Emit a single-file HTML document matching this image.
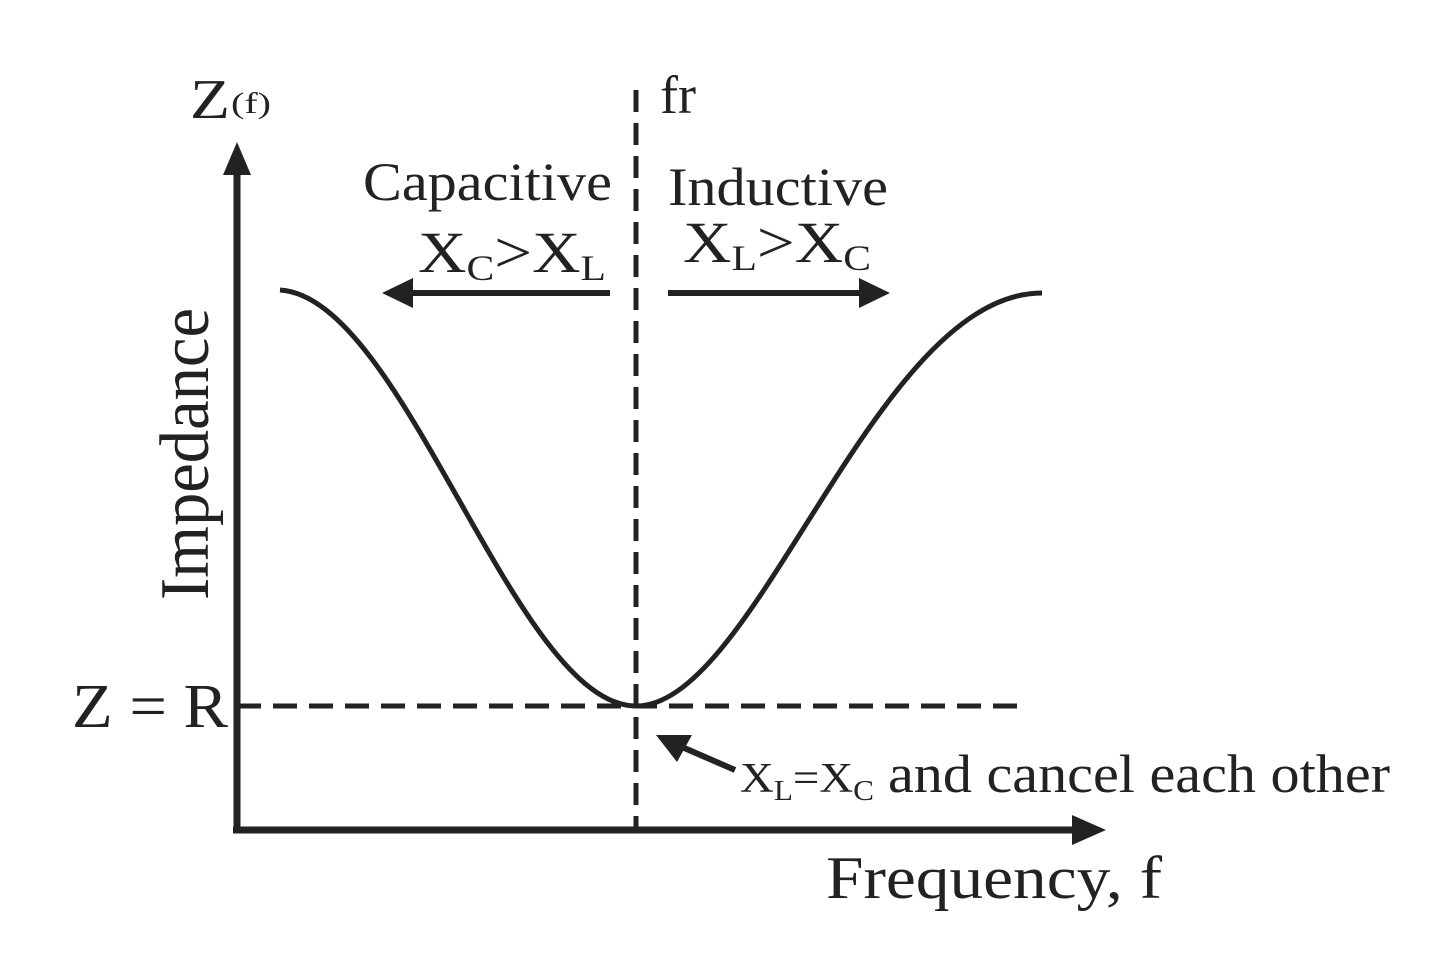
<!DOCTYPE html>
<html><head><meta charset="utf-8"><style>html,body{margin:0;padding:0;background:#fff}svg{display:block}</style></head>
<body>
<svg width="1449" height="965" viewBox="0 0 1449 965" xmlns="http://www.w3.org/2000/svg" font-family="Liberation Serif, serif" fill="#222">
<rect width="1449" height="965" fill="#fff"/>
<g stroke="#222" fill="none">
<line x1="237" y1="832" x2="237" y2="168" stroke-width="7"/>
<line x1="233" y1="830" x2="1080" y2="830" stroke-width="7"/>
<line x1="636" y1="90" x2="636" y2="832" stroke-width="5" stroke-dasharray="22,11"/>
<line x1="237" y1="706" x2="1026" y2="706" stroke-width="5" stroke-dasharray="24,12"/>
<path d="M280,290 C405,298 515,706 636,706 C757,706 875,293 1042,293" stroke-width="5"/>
<line x1="610" y1="293" x2="405" y2="293" stroke-width="6"/>
<line x1="668" y1="293" x2="868" y2="293" stroke-width="6"/>
<line x1="735" y1="770" x2="675" y2="744" stroke-width="6"/>
</g>
<polygon points="237,142 223,175 251,175" />
<polygon points="1106,830 1072,815 1072,845" />
<polygon points="382,293 413,278 413,308" />
<polygon points="890,293 859,278 859,308" />
<polygon points="656,735 692,735 677,762" />
<text x="190" y="118" font-size="56" textLength="40" lengthAdjust="spacingAndGlyphs">Z</text>
<text x="231" y="113" font-size="30" textLength="40" lengthAdjust="spacingAndGlyphs">(f)</text>
<text x="660" y="113" font-size="54" textLength="36" lengthAdjust="spacingAndGlyphs">fr</text>
<text x="363" y="200" font-size="54" textLength="249" lengthAdjust="spacingAndGlyphs">Capacitive</text>
<text x="668" y="205" font-size="54" textLength="220" lengthAdjust="spacingAndGlyphs">Inductive</text>
<text x="418" y="272" font-size="58" textLength="188" lengthAdjust="spacingAndGlyphs">X<tspan font-size="36" dy="8">C</tspan><tspan dy="-8">&gt;X</tspan><tspan font-size="36" dy="8">L</tspan></text>
<text x="683" y="262" font-size="58" textLength="188" lengthAdjust="spacingAndGlyphs">X<tspan font-size="36" dy="8">L</tspan><tspan dy="-8">&gt;X</tspan><tspan font-size="36" dy="8">C</tspan></text>
<text transform="translate(208,600) rotate(-90)" font-size="70" textLength="292" lengthAdjust="spacingAndGlyphs">Impedance</text>
<text x="72" y="727" font-size="62" textLength="156" lengthAdjust="spacingAndGlyphs">Z = R</text>
<text x="740" y="792" font-size="42" textLength="134" lengthAdjust="spacingAndGlyphs">X<tspan font-size="28" dy="8">L</tspan><tspan dy="-8">=X</tspan><tspan font-size="28" dy="8">C</tspan></text>
<text x="888" y="792" font-size="54" textLength="502" lengthAdjust="spacingAndGlyphs">and cancel each other</text>
<text x="826" y="898" font-size="60" textLength="336" lengthAdjust="spacingAndGlyphs">Frequency, f</text>
</svg>
</body></html>
